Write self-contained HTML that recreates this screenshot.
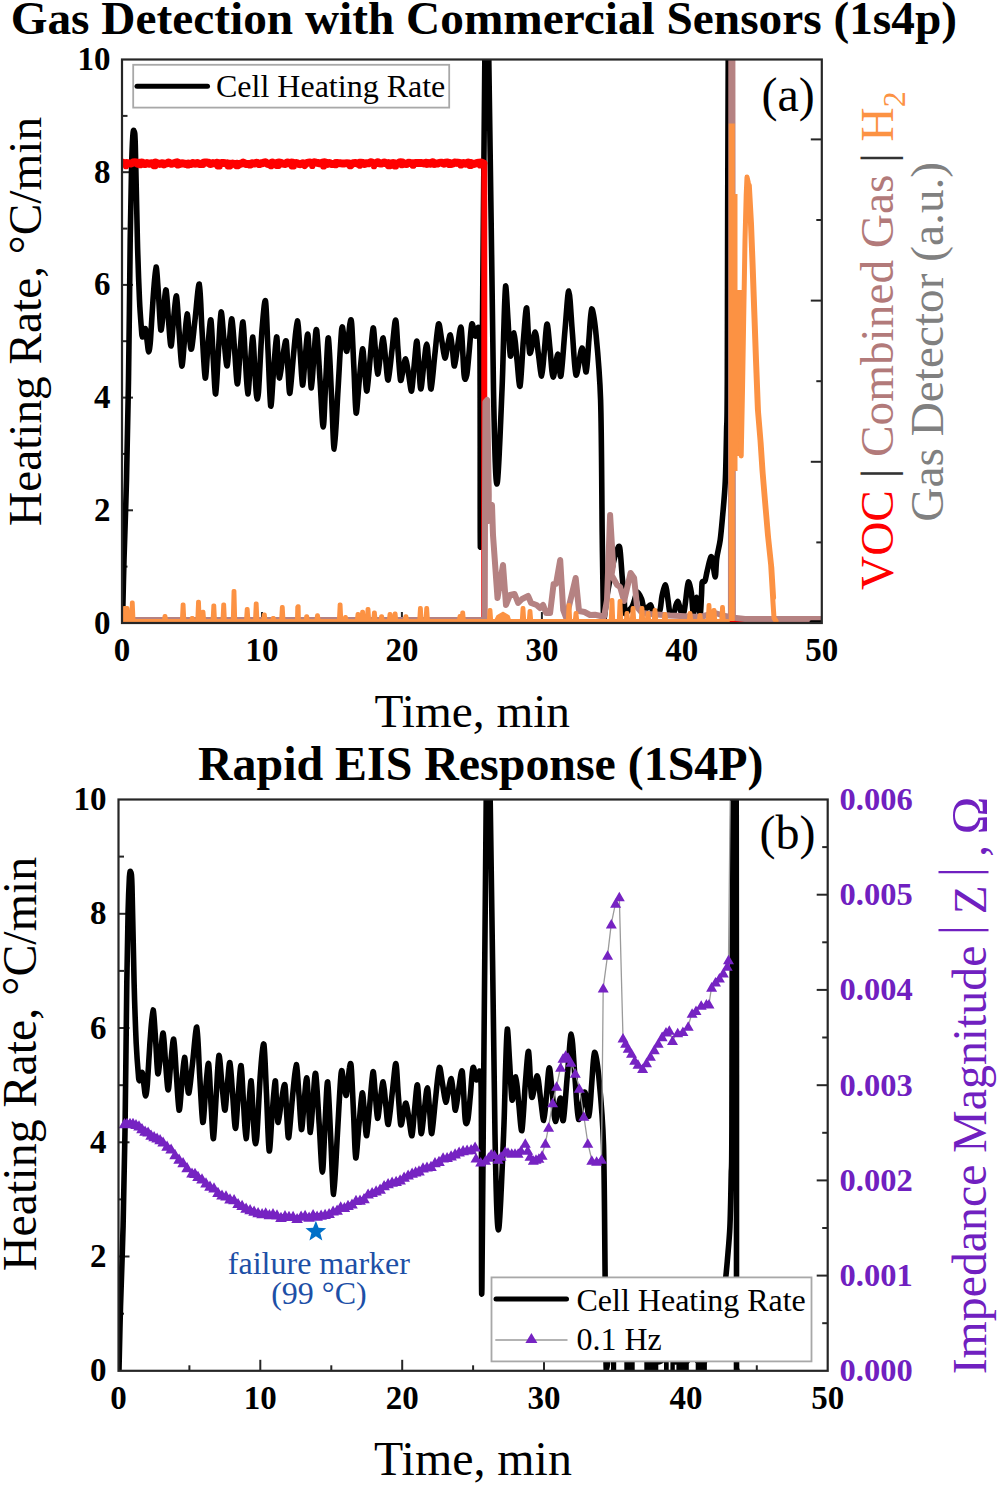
<!DOCTYPE html><html><head><meta charset="utf-8"><style>html,body{margin:0;padding:0;background:#fff}svg{display:block}text{font-family:"Liberation Serif",serif}</style></head><body>
<svg width="998" height="1486" viewBox="0 0 998 1486">
<rect width="998" height="1486" fill="#fff"/>
<defs><clipPath id="ca"><rect x="122.0" y="59.5" width="699.8" height="563.5"/></clipPath>
<clipPath id="cb"><rect x="118.5" y="799.5" width="709.2" height="571.3"/></clipPath></defs>
<path d="M122.0,566.6 h5.5" stroke="#262626" stroke-width="2"/><path d="M122.0,510.3 h11.0" stroke="#262626" stroke-width="2"/><path d="M122.0,453.9 h5.5" stroke="#262626" stroke-width="2"/><path d="M122.0,397.6 h11.0" stroke="#262626" stroke-width="2"/><path d="M122.0,341.2 h5.5" stroke="#262626" stroke-width="2"/><path d="M122.0,284.9 h11.0" stroke="#262626" stroke-width="2"/><path d="M122.0,228.6 h5.5" stroke="#262626" stroke-width="2"/><path d="M122.0,172.2 h11.0" stroke="#262626" stroke-width="2"/><path d="M122.0,115.9 h5.5" stroke="#262626" stroke-width="2"/><path d="M192.0,623.0 v-5.5" stroke="#262626" stroke-width="2"/><path d="M262.0,623.0 v-11.0" stroke="#262626" stroke-width="2"/><path d="M331.9,623.0 v-5.5" stroke="#262626" stroke-width="2"/><path d="M401.9,623.0 v-11.0" stroke="#262626" stroke-width="2"/><path d="M471.9,623.0 v-5.5" stroke="#262626" stroke-width="2"/><path d="M541.9,623.0 v-11.0" stroke="#262626" stroke-width="2"/><path d="M611.9,623.0 v-5.5" stroke="#262626" stroke-width="2"/><path d="M681.8,623.0 v-11.0" stroke="#262626" stroke-width="2"/><path d="M751.8,623.0 v-5.5" stroke="#262626" stroke-width="2"/><path d="M821.8,461.8 h-11.0" stroke="#262626" stroke-width="2"/><path d="M821.8,300.6 h-11.0" stroke="#262626" stroke-width="2"/><path d="M821.8,139.4 h-11.0" stroke="#262626" stroke-width="2"/><path d="M821.8,542.4 h-5.5" stroke="#262626" stroke-width="2"/><path d="M821.8,381.2 h-5.5" stroke="#262626" stroke-width="2"/><path d="M821.8,220.0 h-5.5" stroke="#262626" stroke-width="2"/>
<g clip-path="url(#ca)" fill="none" stroke-linejoin="round" stroke-linecap="round">
<path d="M122,619.8 L821,619.8" stroke="#a89cb8" stroke-width="1.6"/>
<path d="M122.5,622.0 C122.7,612.7 123.4,581.3 124.0,560.0 C124.6,538.7 125.8,507.0 126.5,480.0 C127.2,453.0 127.9,416.0 128.5,380.0 C129.1,344.0 129.8,271.5 130.2,240.0 C130.6,208.5 131.1,185.6 131.5,170.0 C131.9,154.4 132.4,141.8 132.8,136.0 C133.2,130.2 133.6,129.7 134.0,131.0 C134.4,132.3 134.8,128.7 135.3,145.0 C135.8,161.3 136.8,216.8 137.4,240.0 C138.0,263.2 138.9,286.5 139.5,300.0 C140.1,313.5 141.1,324.4 141.5,330.0 C141.9,335.6 142.1,336.9 142.5,337.0 C142.9,337.1 143.6,332.2 144.0,331.0 C144.4,329.8 145.1,327.6 145.5,329.0 C145.9,330.4 146.5,336.6 147.0,340.0 C147.5,343.4 148.2,352.0 148.7,352.0 C149.2,352.0 149.9,347.8 150.5,340.0 C151.1,332.2 152.2,310.9 153.0,300.0 C153.8,289.1 155.2,267.8 156.0,267.0 C156.8,266.2 157.8,285.6 158.5,295.0 C159.2,304.4 160.1,327.8 160.8,330.0 C161.6,332.2 162.7,316.0 163.5,310.0 C164.3,304.0 165.3,288.5 166.1,290.0 C166.8,291.5 167.8,311.6 168.5,320.0 C169.2,328.4 170.2,346.0 171.0,346.0 C171.8,346.0 172.7,327.5 173.5,320.0 C174.3,312.5 175.7,294.5 176.5,296.0 C177.3,297.5 178.2,319.5 179.0,330.0 C179.8,340.5 181.0,364.5 181.8,366.0 C182.6,367.5 183.7,347.8 184.5,340.0 C185.3,332.2 186.4,314.8 187.1,314.0 C187.8,313.2 188.6,329.8 189.3,335.0 C190.0,340.2 190.6,351.2 191.5,349.0 C192.4,346.8 193.8,329.8 195.0,320.0 C196.2,310.2 198.2,282.5 199.3,284.0 C200.4,285.5 201.1,315.9 202.0,330.0 C202.9,344.1 204.3,375.8 205.2,378.0 C206.1,380.2 207.1,353.7 208.0,345.0 C208.9,336.3 210.1,317.8 210.9,320.0 C211.7,322.2 212.6,348.9 213.3,360.0 C214.0,371.1 214.9,395.5 215.7,394.0 C216.5,392.5 217.7,362.3 218.5,350.0 C219.3,337.7 220.3,313.5 221.1,312.0 C221.9,310.5 223.1,331.9 224.0,340.0 C224.9,348.1 226.2,366.0 227.0,366.0 C227.8,366.0 228.8,347.1 229.5,340.0 C230.2,332.9 231.1,317.5 231.9,319.0 C232.7,320.5 233.8,340.2 234.6,350.0 C235.4,359.8 236.6,384.0 237.4,384.0 C238.2,384.0 239.4,359.3 240.2,350.0 C241.0,340.7 242.2,320.5 243.0,322.0 C243.8,323.5 244.7,349.2 245.4,360.0 C246.1,370.8 247.1,393.2 247.8,394.0 C248.5,394.8 249.5,373.6 250.3,365.0 C251.1,356.4 252.2,336.2 252.9,337.0 C253.6,337.8 254.2,361.1 254.8,370.0 C255.4,378.9 256.0,392.7 256.6,396.0 C257.2,399.3 257.7,401.9 258.5,392.0 C259.3,382.1 260.9,343.6 262.0,330.0 C263.1,316.4 264.6,298.0 265.5,301.0 C266.4,304.0 267.2,334.2 268.0,350.0 C268.8,365.8 269.9,403.0 270.7,406.0 C271.5,409.0 272.7,380.4 273.6,370.0 C274.5,359.6 275.9,338.5 276.6,337.0 C277.3,335.5 277.6,353.9 278.0,360.0 C278.4,366.1 278.9,378.8 279.6,378.0 C280.4,377.2 282.0,360.6 283.0,355.0 C284.0,349.4 285.4,338.8 286.2,341.0 C286.9,343.2 287.4,362.2 288.0,370.0 C288.6,377.8 289.1,395.2 289.9,393.0 C290.7,390.8 292.4,365.8 293.5,355.0 C294.6,344.2 296.3,321.8 297.3,321.0 C298.3,320.2 299.2,340.4 300.0,350.0 C300.8,359.6 301.8,383.5 302.5,385.0 C303.2,386.5 304.2,367.6 305.0,360.0 C305.8,352.4 307.0,334.0 307.7,334.0 C308.4,334.0 308.9,351.9 309.5,360.0 C310.1,368.1 310.7,388.8 311.4,388.0 C312.1,387.2 313.2,363.7 314.0,355.0 C314.8,346.3 315.7,326.2 316.6,330.0 C317.5,333.8 319.0,365.5 320.0,380.0 C321.0,394.6 322.3,427.0 323.2,427.0 C324.1,427.0 325.0,393.4 325.8,380.0 C326.6,366.7 327.5,335.8 328.4,338.0 C329.3,340.2 330.6,378.4 331.5,395.0 C332.4,411.6 333.3,449.8 334.3,449.0 C335.3,448.2 336.9,408.0 338.0,390.0 C339.1,372.0 340.8,336.5 341.7,329.0 C342.6,321.5 343.5,336.7 344.3,340.0 C345.1,343.3 346.1,353.4 346.9,351.0 C347.7,348.6 349.2,328.1 349.9,324.0 C350.6,319.9 351.1,317.1 351.7,324.0 C352.3,330.9 353.3,356.6 354.0,370.0 C354.7,383.4 355.3,411.5 356.1,413.0 C356.9,414.5 358.3,389.6 359.3,380.0 C360.3,370.4 361.7,350.5 362.5,349.0 C363.3,347.5 364.0,363.7 364.7,370.0 C365.4,376.3 366.1,392.5 366.9,391.0 C367.7,389.5 369.1,369.4 370.0,360.0 C370.9,350.6 372.3,329.5 373.1,328.0 C373.9,326.5 374.7,343.1 375.4,350.0 C376.1,356.9 376.9,373.2 377.6,374.0 C378.4,374.8 379.6,360.4 380.4,355.0 C381.2,349.6 382.4,337.2 383.2,338.0 C384.0,338.8 384.9,353.7 385.7,360.0 C386.4,366.3 387.3,381.5 388.2,380.0 C389.1,378.5 390.9,359.0 392.0,350.0 C393.1,341.0 394.7,320.0 395.6,320.0 C396.5,320.0 397.3,341.0 398.0,350.0 C398.7,359.0 399.8,377.0 400.5,380.0 C401.2,383.0 402.2,373.2 403.0,370.0 C403.8,366.8 404.8,358.2 405.7,359.0 C406.6,359.8 407.8,370.2 408.7,375.0 C409.6,379.8 410.8,392.5 411.6,391.0 C412.4,389.5 413.4,372.5 414.2,365.0 C415.0,357.5 416.1,341.0 416.8,341.0 C417.5,341.0 418.2,357.8 418.8,365.0 C419.4,372.2 420.1,389.0 420.8,389.0 C421.6,389.0 422.9,371.8 423.8,365.0 C424.7,358.2 425.9,344.0 426.7,344.0 C427.5,344.0 428.2,358.2 428.9,365.0 C429.6,371.8 430.2,390.5 431.1,389.0 C432.0,387.5 433.7,364.8 434.8,355.0 C435.9,345.2 437.5,326.2 438.5,324.0 C439.5,321.8 440.7,334.9 441.7,340.0 C442.7,345.1 444.0,357.2 444.9,358.0 C445.8,358.8 446.9,348.4 447.7,345.0 C448.5,341.6 449.7,334.2 450.4,335.0 C451.1,335.8 451.9,345.4 452.5,350.0 C453.1,354.6 453.7,366.8 454.5,366.0 C455.3,365.2 456.8,350.7 457.8,345.0 C458.8,339.3 460.3,323.5 461.2,328.0 C462.1,332.5 463.3,367.9 464.1,375.0 C464.9,382.1 466.0,378.8 466.8,375.0 C467.6,371.2 468.6,357.6 469.3,350.0 C470.1,342.4 470.9,326.1 471.8,324.0 C472.7,321.9 474.0,333.3 475.2,336.0 C476.4,338.7 479.0,311.2 479.8,342.0 C480.6,372.8 479.8,586.3 480.6,541.0 C481.4,495.7 483.8,115.2 485.0,40.0 C486.2,-35.2 487.2,-12.5 488.5,40.0 C489.8,92.5 492.2,323.4 493.5,390.0 C494.8,456.6 495.7,484.0 497.0,484.0 C498.3,484.0 501.0,413.1 502.0,390.0 C503.0,366.9 503.3,345.6 503.8,330.0 C504.3,314.4 505.0,287.5 505.6,286.0 C506.2,284.5 507.3,309.5 508.0,320.0 C508.7,330.5 509.5,354.1 510.4,356.0 C511.3,357.9 513.0,332.4 514.0,333.0 C515.0,333.6 516.1,352.1 517.0,360.0 C517.9,367.9 519.1,389.0 520.1,386.0 C521.1,383.0 522.4,351.7 523.4,340.0 C524.4,328.3 525.8,306.1 526.7,308.0 C527.6,309.9 528.4,349.4 529.7,353.0 C531.0,356.6 533.8,331.8 535.1,332.0 C536.4,332.2 537.4,347.4 538.4,354.0 C539.4,360.6 540.8,376.6 541.7,376.0 C542.6,375.4 543.6,357.8 544.4,350.0 C545.2,342.2 546.2,324.0 547.1,324.0 C548.0,324.0 549.2,342.1 550.1,350.0 C551.0,357.9 551.9,376.4 553.1,377.0 C554.3,377.6 556.7,354.1 557.9,354.0 C559.1,353.9 559.8,379.6 560.9,376.0 C562.0,372.4 563.8,342.8 565.0,330.0 C566.2,317.2 567.7,290.6 568.8,291.0 C569.9,291.4 571.3,320.4 572.4,333.0 C573.5,345.6 574.6,372.8 576.0,375.0 C577.4,377.2 580.5,348.4 582.0,348.0 C583.5,347.6 585.2,373.2 586.2,372.0 C587.2,370.8 588.1,349.4 588.9,340.0 C589.7,330.6 590.6,310.2 591.6,309.0 C592.6,307.8 594.4,318.4 595.8,332.0 C597.1,345.6 599.6,369.6 600.6,400.0 C601.6,430.4 601.8,502.8 602.2,535.0 C602.6,567.2 603.0,603.5 603.4,615.0 C603.8,626.5 604.5,614.9 605.0,612.0 C605.5,609.1 606.1,601.7 607.0,596.0 C607.9,590.3 610.0,579.4 611.0,574.0 C612.0,568.6 613.1,563.6 614.0,560.0 C614.9,556.4 616.1,551.8 617.0,550.0 C617.9,548.2 619.0,544.0 619.8,548.0 C620.6,552.0 621.6,570.2 622.2,577.0 C622.8,583.8 623.6,587.6 624.0,593.0 C624.4,598.4 624.4,610.3 625.0,613.0 C625.6,615.7 627.0,611.9 628.0,611.0 C629.0,610.1 630.9,608.6 631.9,607.0 C632.9,605.4 633.7,602.2 634.5,600.0 C635.3,597.8 636.2,592.1 637.3,592.0 C638.4,591.9 640.6,596.5 641.6,599.0 C642.6,601.5 643.2,607.6 644.0,609.0 C644.8,610.4 646.0,608.6 647.0,608.0 C648.0,607.4 649.8,604.3 650.7,605.0 C651.6,605.7 652.3,611.1 653.1,612.5 C653.9,613.9 655.0,614.4 656.0,614.0 C657.0,613.6 659.1,612.7 660.0,610.0 C660.9,607.3 661.2,599.8 662.0,596.0 C662.8,592.2 664.7,584.4 665.6,585.0 C666.5,585.6 667.3,595.8 668.0,600.0 C668.7,604.2 669.1,611.0 670.0,613.0 C670.9,615.0 672.9,614.2 673.8,613.0 C674.7,611.8 675.4,606.7 676.0,605.0 C676.6,603.3 677.4,601.1 678.0,601.6 C678.6,602.1 679.5,606.2 680.0,608.0 C680.5,609.8 680.9,612.9 681.5,613.5 C682.1,614.1 683.3,614.3 684.0,612.0 C684.7,609.7 685.4,602.5 686.0,598.0 C686.6,593.5 687.5,582.8 688.3,582.0 C689.1,581.2 690.6,587.9 691.3,592.5 C692.0,597.1 692.6,611.1 693.2,613.0 C693.8,614.9 694.5,607.3 695.0,605.0 C695.5,602.7 696.3,597.2 696.8,597.4 C697.3,597.5 698.0,603.6 698.5,606.0 C699.0,608.4 700.0,615.1 700.4,613.5 C700.8,611.9 701.2,599.7 701.5,595.0 C701.8,590.3 701.7,584.3 702.2,582.2 C702.7,580.1 704.3,582.6 705.0,581.0 C705.7,579.4 706.3,574.6 707.1,571.3 C707.9,568.0 709.4,561.2 710.1,559.2 C710.8,557.2 711.2,555.3 712.0,558.0 C712.8,560.7 714.5,577.0 715.2,577.0 C715.9,577.0 716.0,563.5 716.8,558.0 C717.5,552.5 719.3,546.5 720.2,540.0 C721.1,533.5 721.9,523.9 722.7,515.0 C723.5,506.1 724.7,493.8 725.3,481.0 C725.9,468.2 726.3,445.1 726.6,430.0 C726.9,414.9 727.0,438.5 727.3,380.0 C727.6,321.5 727.7,91.0 728.3,40.0 C728.9,-11.0 731.0,-47.3 731.5,40.0 C732.0,127.3 730.5,534.9 731.8,622.0 C733.1,709.1 731.3,621.1 740.0,621.0 C748.7,620.9 777.9,621.0 790.0,621.0 C802.1,621.0 816.4,621.0 821.0,621.0" stroke="#000" stroke-width="5.6"/>
<path d="M122.5,162.7 C122.9,162.8 124.0,163.2 124.7,163.3 C125.4,163.3 126.2,162.9 126.9,163.0 C127.6,163.0 128.4,163.3 129.1,163.4 C129.8,163.5 130.6,163.6 131.3,163.4 C132.0,163.3 132.8,162.6 133.5,162.4 C134.2,162.2 135.0,162.1 135.7,162.3 C136.4,162.6 137.2,163.7 137.9,163.8 C138.6,163.9 139.4,162.9 140.1,162.8 C140.8,162.6 141.6,162.5 142.3,162.7 C143.0,162.9 143.8,164.0 144.5,164.1 C145.2,164.2 146.0,163.2 146.7,163.1 C147.4,163.1 148.2,163.8 148.9,163.8 C149.6,163.8 150.4,163.2 151.1,163.2 C151.8,163.1 152.6,163.5 153.3,163.5 C154.0,163.4 154.8,162.6 155.5,162.6 C156.2,162.6 157.0,163.2 157.7,163.4 C158.4,163.7 159.2,163.9 159.9,163.9 C160.6,163.8 161.4,163.3 162.1,163.2 C162.8,163.2 163.6,163.6 164.3,163.6 C165.0,163.7 165.8,163.7 166.5,163.5 C167.2,163.3 168.0,162.4 168.7,162.4 C169.4,162.4 170.2,163.5 170.9,163.7 C171.6,163.8 172.4,163.5 173.1,163.4 C173.8,163.2 174.6,163.0 175.3,162.8 C176.0,162.7 176.8,162.2 177.5,162.4 C178.2,162.5 179.0,163.7 179.7,163.9 C180.4,164.0 181.2,163.2 181.9,163.2 C182.6,163.1 183.4,163.5 184.1,163.6 C184.8,163.7 185.6,163.9 186.3,163.9 C187.0,163.9 187.8,163.6 188.5,163.6 C189.2,163.6 190.0,164.1 190.7,164.0 C191.4,163.9 192.2,163.0 192.9,163.0 C193.6,163.0 194.4,163.7 195.1,163.7 C195.8,163.8 196.6,163.1 197.3,163.1 C198.0,163.1 198.8,163.9 199.5,164.0 C200.2,164.1 201.0,164.1 201.7,163.9 C202.4,163.6 203.2,162.7 203.9,162.5 C204.6,162.3 205.4,162.5 206.1,162.5 C206.8,162.6 207.6,162.4 208.3,162.7 C209.0,162.9 209.8,164.0 210.5,164.0 C211.2,164.1 212.0,163.2 212.7,163.1 C213.4,163.0 214.2,163.5 214.9,163.4 C215.6,163.4 216.4,162.9 217.1,162.8 C217.8,162.8 218.6,163.2 219.3,163.2 C220.0,163.2 220.8,163.0 221.5,163.0 C222.2,162.9 223.0,162.9 223.7,162.9 C224.4,163.0 225.2,163.3 225.9,163.4 C226.6,163.4 227.4,163.3 228.1,163.4 C228.8,163.4 229.6,163.9 230.3,163.9 C231.0,164.0 231.8,163.5 232.5,163.5 C233.2,163.5 234.0,163.9 234.7,164.0 C235.4,164.0 236.2,163.8 236.9,163.8 C237.6,163.9 238.4,164.1 239.1,164.1 C239.8,164.0 240.6,163.8 241.3,163.5 C242.0,163.3 242.8,162.5 243.5,162.6 C244.2,162.7 245.0,163.6 245.7,163.8 C246.4,164.1 247.2,164.0 247.9,164.0 C248.6,164.0 249.4,164.0 250.1,163.9 C250.8,163.8 251.6,163.4 252.3,163.3 C253.0,163.3 253.8,163.7 254.5,163.6 C255.2,163.5 256.0,162.6 256.7,162.7 C257.4,162.7 258.2,163.7 258.9,163.8 C259.6,163.9 260.4,163.5 261.1,163.3 C261.8,163.2 262.6,163.0 263.3,162.8 C264.0,162.7 264.8,162.2 265.5,162.4 C266.2,162.6 267.0,163.6 267.7,163.8 C268.4,164.1 269.2,164.3 269.9,164.1 C270.6,163.9 271.4,162.5 272.1,162.5 C272.8,162.4 273.6,163.6 274.3,163.7 C275.0,163.8 275.8,163.2 276.5,163.0 C277.2,162.8 278.0,162.6 278.7,162.6 C279.4,162.5 280.2,162.6 280.9,162.8 C281.6,163.0 282.4,163.5 283.1,163.7 C283.8,163.9 284.6,164.1 285.3,163.9 C286.0,163.7 286.8,162.5 287.5,162.4 C288.2,162.3 289.0,163.4 289.7,163.4 C290.4,163.4 291.2,162.3 291.9,162.4 C292.6,162.4 293.4,163.5 294.1,163.6 C294.8,163.7 295.6,162.8 296.3,162.9 C297.0,162.9 297.8,163.7 298.5,163.9 C299.2,164.1 300.0,164.2 300.7,164.1 C301.4,164.0 302.2,163.2 302.9,163.2 C303.6,163.2 304.4,164.2 305.1,164.1 C305.8,164.0 306.6,163.1 307.3,162.9 C308.0,162.6 308.8,162.4 309.5,162.4 C310.2,162.5 311.0,163.4 311.7,163.4 C312.4,163.4 313.2,162.5 313.9,162.4 C314.6,162.2 315.4,162.5 316.1,162.7 C316.8,162.8 317.6,162.9 318.3,163.0 C319.0,163.2 319.8,163.5 320.5,163.4 C321.2,163.3 322.0,162.8 322.7,162.6 C323.4,162.4 324.2,162.2 324.9,162.4 C325.6,162.6 326.4,163.8 327.1,163.9 C327.8,163.9 328.6,162.8 329.3,162.9 C330.0,162.9 330.8,163.9 331.5,164.0 C332.2,164.2 333.0,164.1 333.7,163.9 C334.4,163.7 335.2,163.1 335.9,163.0 C336.6,162.8 337.4,163.1 338.1,163.1 C338.8,163.2 339.6,163.2 340.3,163.2 C341.0,163.3 341.8,163.4 342.5,163.5 C343.2,163.5 344.0,163.4 344.7,163.4 C345.4,163.3 346.2,163.3 346.9,163.3 C347.6,163.3 348.4,163.3 349.1,163.4 C349.8,163.5 350.6,164.0 351.3,164.0 C352.0,164.0 352.8,163.4 353.5,163.2 C354.2,163.1 355.0,163.0 355.7,163.1 C356.4,163.1 357.2,163.7 357.9,163.6 C358.6,163.5 359.4,162.9 360.1,162.7 C360.8,162.6 361.6,162.6 362.3,162.8 C363.0,163.1 363.8,164.0 364.5,164.1 C365.2,164.1 366.0,163.4 366.7,163.2 C367.4,163.1 368.2,163.4 368.9,163.3 C369.6,163.1 370.4,162.4 371.1,162.3 C371.8,162.3 372.6,162.9 373.3,163.0 C374.0,163.2 374.8,163.5 375.5,163.3 C376.2,163.2 377.0,162.3 377.7,162.3 C378.4,162.3 379.2,163.2 379.9,163.4 C380.6,163.6 381.4,163.6 382.1,163.4 C382.8,163.3 383.6,162.4 384.3,162.4 C385.0,162.4 385.8,163.3 386.5,163.4 C387.2,163.6 388.0,163.1 388.7,163.1 C389.4,163.2 390.2,163.6 390.9,163.5 C391.6,163.5 392.4,162.9 393.1,162.9 C393.8,162.9 394.6,163.5 395.3,163.6 C396.0,163.7 396.8,163.8 397.5,163.6 C398.2,163.4 399.0,162.5 399.7,162.3 C400.4,162.1 401.2,162.2 401.9,162.4 C402.6,162.6 403.4,163.2 404.1,163.5 C404.8,163.8 405.6,164.2 406.3,164.0 C407.0,163.9 407.8,162.9 408.5,162.8 C409.2,162.6 410.0,163.0 410.7,163.1 C411.4,163.2 412.2,163.4 412.9,163.4 C413.6,163.3 414.4,162.9 415.1,162.9 C415.8,162.8 416.6,163.0 417.3,163.0 C418.0,163.0 418.8,162.9 419.5,162.9 C420.2,162.9 421.0,162.9 421.7,163.0 C422.4,163.0 423.2,163.4 423.9,163.4 C424.6,163.4 425.4,162.9 426.1,162.8 C426.8,162.8 427.6,162.8 428.3,163.0 C429.0,163.1 429.8,163.8 430.5,163.7 C431.2,163.6 432.0,162.4 432.7,162.3 C433.4,162.3 434.2,163.1 434.9,163.3 C435.6,163.5 436.4,163.7 437.1,163.6 C437.8,163.5 438.6,163.0 439.3,162.9 C440.0,162.7 440.8,162.6 441.5,162.7 C442.2,162.8 443.0,163.7 443.7,163.7 C444.4,163.8 445.2,162.9 445.9,162.7 C446.6,162.5 447.4,162.6 448.1,162.6 C448.8,162.7 449.6,162.9 450.3,163.1 C451.0,163.2 451.8,163.7 452.5,163.6 C453.2,163.5 454.0,162.6 454.7,162.5 C455.4,162.4 456.2,162.8 456.9,162.9 C457.6,162.9 458.4,162.7 459.1,162.9 C459.8,163.1 460.6,163.8 461.3,163.8 C462.0,163.8 462.8,163.1 463.5,163.1 C464.2,163.1 465.0,163.9 465.7,163.8 C466.4,163.8 467.2,162.8 467.9,162.6 C468.6,162.4 469.4,162.8 470.1,162.9 C470.8,163.1 471.6,163.3 472.3,163.5 C473.0,163.6 473.8,164.0 474.5,163.9 C475.2,163.8 476.0,163.3 476.7,163.1 C477.4,162.9 478.2,162.8 478.9,162.7 C479.6,162.6 480.4,162.4 481.1,162.5 C481.8,162.6 482.9,163.1 483.3,163.3" stroke="#ff0000" stroke-width="8"/>
<path d="M484.3,163 L484.2,621" stroke="#ff0000" stroke-width="6"/>
<path d="M484.2,621 L490,621 L821,621" stroke="#ff0000" stroke-width="4"/>
<ellipse cx="126.0" cy="167.3" rx="2.8" ry="2" fill="#ff0000" stroke="none"/>
<ellipse cx="140.4" cy="166.3" rx="2.8" ry="2" fill="#ff0000" stroke="none"/>
<ellipse cx="154.5" cy="167.3" rx="3.5" ry="2" fill="#ff0000" stroke="none"/>
<ellipse cx="163.9" cy="166.4" rx="2.7" ry="2" fill="#ff0000" stroke="none"/>
<ellipse cx="177.8" cy="166.5" rx="2.9" ry="2" fill="#ff0000" stroke="none"/>
<ellipse cx="188.0" cy="166.6" rx="3.1" ry="2" fill="#ff0000" stroke="none"/>
<ellipse cx="203.2" cy="165.9" rx="2.7" ry="2" fill="#ff0000" stroke="none"/>
<ellipse cx="218.7" cy="167.6" rx="3.8" ry="2" fill="#ff0000" stroke="none"/>
<ellipse cx="229.0" cy="167.5" rx="3.9" ry="2" fill="#ff0000" stroke="none"/>
<ellipse cx="237.2" cy="167.3" rx="3.6" ry="2" fill="#ff0000" stroke="none"/>
<ellipse cx="249.9" cy="166.4" rx="3.3" ry="2" fill="#ff0000" stroke="none"/>
<ellipse cx="259.3" cy="166.0" rx="2.8" ry="2" fill="#ff0000" stroke="none"/>
<ellipse cx="271.1" cy="167.3" rx="2.9" ry="2" fill="#ff0000" stroke="none"/>
<ellipse cx="277.6" cy="167.1" rx="3.9" ry="2" fill="#ff0000" stroke="none"/>
<ellipse cx="292.8" cy="167.4" rx="3.8" ry="2" fill="#ff0000" stroke="none"/>
<ellipse cx="304.6" cy="167.2" rx="2.5" ry="2" fill="#ff0000" stroke="none"/>
<ellipse cx="312.3" cy="167.0" rx="2.9" ry="2" fill="#ff0000" stroke="none"/>
<ellipse cx="323.6" cy="167.5" rx="3.1" ry="2" fill="#ff0000" stroke="none"/>
<ellipse cx="335.7" cy="166.3" rx="3.0" ry="2" fill="#ff0000" stroke="none"/>
<ellipse cx="350.3" cy="167.2" rx="3.2" ry="2" fill="#ff0000" stroke="none"/>
<ellipse cx="359.8" cy="166.8" rx="2.8" ry="2" fill="#ff0000" stroke="none"/>
<ellipse cx="374.0" cy="167.2" rx="2.8" ry="2" fill="#ff0000" stroke="none"/>
<ellipse cx="389.2" cy="167.3" rx="3.7" ry="2" fill="#ff0000" stroke="none"/>
<ellipse cx="395.3" cy="167.4" rx="3.4" ry="2" fill="#ff0000" stroke="none"/>
<ellipse cx="401.8" cy="166.3" rx="2.9" ry="2" fill="#ff0000" stroke="none"/>
<ellipse cx="413.1" cy="166.7" rx="3.1" ry="2" fill="#ff0000" stroke="none"/>
<ellipse cx="426.8" cy="165.9" rx="2.5" ry="2" fill="#ff0000" stroke="none"/>
<ellipse cx="434.1" cy="166.0" rx="2.7" ry="2" fill="#ff0000" stroke="none"/>
<ellipse cx="449.8" cy="166.0" rx="3.8" ry="2" fill="#ff0000" stroke="none"/>
<ellipse cx="460.9" cy="166.4" rx="3.0" ry="2" fill="#ff0000" stroke="none"/>
<ellipse cx="470.4" cy="166.9" rx="3.5" ry="2" fill="#ff0000" stroke="none"/>
<ellipse cx="480.0" cy="166.4" rx="2.8" ry="2" fill="#ff0000" stroke="none"/>
<path d="M122.0,620.0 L484.6,620.0 L485.4,402.0 L487.2,400.0 L488.8,495.0 L488.5,521.0 L492.0,505.0 L493.0,535.0 L497.5,598.0 L503.0,565.0 L506.0,605.0 L510.0,595.0 L514.6,594.0 L518.1,603.0 L522.1,599.0 L528.1,596.0 L531.1,603.0 L536.6,605.0 L540.0,608.0 L543.1,605.0 L546.1,613.0 L550.1,613.0 L553.6,584.0 L556.0,584.0 L560.2,560.0 L563.2,610.0 L566.2,618.0 L575.7,578.0 L579.0,611.0 L584.5,612.0 L590.0,615.0 L595.0,614.7 L604.1,616.7 L607.0,600.0 L610.1,515.0 L613.1,565.0 L611.5,575.0 L617.1,585.0 L620.1,587.0 L624.1,601.0 L630.6,573.0 L634.1,578.0 L637.1,607.0 L642.1,613.0 L650.2,614.0 L670.0,615.5 L700.0,617.0 L715.0,613.0 L725.0,616.0 L729.5,617.0 L730.9,617.0 L731.3,40.0 L732.4,40.0 L732.9,617.0 L736.0,618.0 L745.0,619.0 L821.0,619.0" stroke="#b58282" stroke-width="6"/>
<path d="M122.0,621.0 L123.2,621.0 L124.0,608.0 L125.0,608.0 L125.7,621.0 L125.8,621.0 L126.5,608.0 L127.5,608.0 L128.3,621.0 L131.0,621.0 L131.8,602.5 L132.8,602.5 L133.6,621.0 L163.7,621.0 L164.5,616.0 L165.5,616.0 L166.3,621.0 L181.8,621.0 L182.6,604.4 L183.6,604.4 L184.4,621.0 L190.9,621.0 L191.7,617.9 L192.7,617.9 L193.5,621.0 L197.2,621.0 L198.0,601.6 L199.0,601.6 L199.8,621.0 L201.7,621.0 L202.5,611.6 L203.5,611.6 L204.3,621.0 L212.5,621.0 L213.3,605.3 L214.3,605.3 L215.1,621.0 L222.4,621.0 L223.2,604.4 L224.2,604.4 L225.0,621.0 L232.7,621.0 L233.5,590.8 L234.5,590.8 L235.3,621.0 L245.9,621.0 L246.7,608.9 L247.7,608.9 L248.5,621.0 L254.9,621.0 L255.7,603.4 L256.7,603.4 L257.5,621.0 L263.0,621.0 L263.8,614.3 L264.8,614.3 L265.6,621.0 L272.0,621.0 L272.8,617.9 L273.8,617.9 L274.6,621.0 L281.0,621.0 L281.8,607.0 L282.8,607.0 L283.6,621.0 L296.4,621.0 L296.9,621.0 L297.2,607.0 L297.7,606.2 L298.2,607.0 L298.7,606.2 L299.0,621.0 L299.5,621.0 L305.4,621.0 L306.2,616.1 L307.2,616.1 L308.0,621.0 L316.2,621.0 L317.0,615.2 L318.0,615.2 L318.8,621.0 L338.8,621.0 L339.6,604.4 L340.6,604.4 L341.4,621.0 L344.2,621.0 L345.0,617.0 L346.0,617.0 L346.8,621.0 L356.7,621.0 L357.5,614.0 L358.5,614.0 L359.3,621.0 L361.3,621.0 L362.1,611.6 L363.1,611.6 L363.9,621.0 L366.7,621.0 L367.5,608.9 L368.5,608.9 L369.3,621.0 L373.1,621.0 L373.9,612.5 L374.9,612.5 L375.7,621.0 L380.3,621.0 L381.1,616.1 L382.1,616.1 L382.9,621.0 L388.7,621.0 L389.5,614.0 L390.5,614.0 L391.3,621.0 L393.8,621.0 L394.6,613.4 L395.6,613.4 L396.4,621.0 L404.6,621.0 L405.4,616.1 L406.4,616.1 L407.2,621.0 L419.1,621.0 L419.9,608.0 L420.9,608.0 L421.7,621.0 L425.4,621.0 L426.2,608.0 L427.2,608.0 L428.0,621.0 L458.7,621.0 L459.5,616.0 L460.5,616.0 L461.3,621.0 L461.4,621.0 L462.2,612.5 L463.2,612.5 L464.0,621.0 L488.7,621.0 L489.5,610.0 L490.5,610.0 L491.3,621.0 L521.7,621.0 L522.5,608.0 L523.5,608.0 L524.3,621.0 L528.7,621.0 L529.5,611.0 L530.5,611.0 L531.3,621.0 L567.7,621.0 L568.5,605.0 L569.5,605.0 L570.3,621.0 L574.7,621.0 L575.5,613.0 L576.5,613.0 L577.3,621.0 L610.7,621.0 L611.5,600.0 L612.5,600.0 L613.3,621.0 L618.7,621.0 L619.5,601.0 L620.5,601.0 L621.3,621.0 L625.7,621.0 L626.5,613.0 L627.5,613.0 L628.3,621.0 L631.7,621.0 L632.5,608.0 L633.5,608.0 L634.3,621.0 L640.7,621.0 L641.5,608.0 L642.5,608.0 L643.3,621.0 L646.7,621.0 L647.5,613.0 L648.5,613.0 L649.3,621.0 L653.7,621.0 L654.5,610.0 L655.5,610.0 L656.3,621.0 L663.7,621.0 L664.5,614.0 L665.5,614.0 L666.3,621.0 L688.7,621.0 L689.5,613.0 L690.5,613.0 L691.3,621.0 L698.7,621.0 L699.5,615.0 L700.5,615.0 L701.3,621.0 L707.7,621.0 L708.5,605.0 L709.5,605.0 L710.3,621.0 L712.7,621.0 L713.5,610.0 L714.5,610.0 L715.3,621.0 L721.2,621.0 L722.0,607.0 L723.0,607.0 L723.8,621.0 L728.0,621.0" stroke="#fc9243" stroke-width="3.8"/>
<path d="M494,622 L497,616 L503,612.5 L509,616 L511,622 Z" fill="#fc9243" stroke="#fc9243" stroke-width="1.5"/>
<path d="M728.8,123.6 H734.8 V621 H728.8 Z M728.8,194 H737.5 V471 H728.8 Z M736,290 L744.6,290 L742.2,456 L736,456 Z" fill="#fc9243"/>
<path d="M741.2,456.0 L742.5,390.0 L743.5,330.0 L745.0,240.0 L746.2,195.0 L747.0,177.0 L748.2,182.0 L750.4,221.0 L752.0,262.0 L753.9,315.0 L755.5,360.0 L757.4,409.0 L760.0,440.0 L762.0,470.0 L764.5,500.0 L767.5,535.0 L770.7,565.0 L772.5,595.0 L774.0,618.0 L776.0,621.0" stroke="#fc9243" stroke-width="5"/>
<path d="M811,621.8 H821" stroke="#000" stroke-width="3"/>
<path d="M749.8,185.0 L752.0,224.0 L753.6,265.0 L755.5,318.0 L757.1,363.0 L759.0,412.0 L761.6,443.0 L763.6,473.0 L766.1,503.0 L769.1,538.0 L772.3,568.0 L774.1,598.0" stroke="#fc9243" stroke-width="4"/>
</g>
<rect x="122.0" y="59.5" width="699.8" height="563.5" fill="none" stroke="#262626" stroke-width="2.2"/>
<rect x="133.2" y="64.8" width="316" height="42.8" fill="#fff" stroke="#a8a8a8" stroke-width="1.8"/>
<path d="M137,86.3 H207.5" stroke="#000" stroke-width="5" stroke-linecap="round"/>
<text x="216" y="97" font-size="32">Cell Heating Rate</text>
<text x="761.5" y="111.4" font-size="48">(a)</text>
<text x="110.5" y="633.5" font-size="33" font-weight="bold" text-anchor="end">0</text>
<text x="110.5" y="520.8" font-size="33" font-weight="bold" text-anchor="end">2</text>
<text x="110.5" y="408.1" font-size="33" font-weight="bold" text-anchor="end">4</text>
<text x="110.5" y="295.4" font-size="33" font-weight="bold" text-anchor="end">6</text>
<text x="110.5" y="182.7" font-size="33" font-weight="bold" text-anchor="end">8</text>
<text x="110.5" y="70.0" font-size="33" font-weight="bold" text-anchor="end">10</text>
<text x="122.0" y="660.5" font-size="33" font-weight="bold" text-anchor="middle">0</text>
<text x="262.0" y="660.5" font-size="33" font-weight="bold" text-anchor="middle">10</text>
<text x="401.9" y="660.5" font-size="33" font-weight="bold" text-anchor="middle">20</text>
<text x="541.9" y="660.5" font-size="33" font-weight="bold" text-anchor="middle">30</text>
<text x="681.8" y="660.5" font-size="33" font-weight="bold" text-anchor="middle">40</text>
<text x="821.8" y="660.5" font-size="33" font-weight="bold" text-anchor="middle">50</text>
<text x="10.7" y="33.8" font-size="47.3" font-weight="bold">Gas Detection with Commercial Sensors (1s4p)</text>
<text x="374.6" y="726.5" font-size="47.3">Time, min</text>
<text transform="translate(41,526) rotate(-90)" font-size="47.3">Heating Rate, °C/min</text>
<text transform="translate(892.5,590) rotate(-90)" font-size="47.3"><tspan fill="#ff0000">VOC</tspan><tspan fill="#333"> | </tspan><tspan fill="#b27a7a">Combined Gas</tspan><tspan fill="#333"> | </tspan><tspan fill="#fc9243">H<tspan font-size="32" dy="12">2</tspan></tspan></text>
<text transform="translate(943,521.7) rotate(-90)" font-size="47.3" fill="#808080">Gas Detector (a.u.)</text>
<path d="M118.5,1313.7 h5.5" stroke="#262626" stroke-width="2"/><path d="M118.5,1256.5 h11.0" stroke="#262626" stroke-width="2"/><path d="M118.5,1199.4 h5.5" stroke="#262626" stroke-width="2"/><path d="M118.5,1142.3 h11.0" stroke="#262626" stroke-width="2"/><path d="M118.5,1085.2 h5.5" stroke="#262626" stroke-width="2"/><path d="M118.5,1028.0 h11.0" stroke="#262626" stroke-width="2"/><path d="M118.5,970.9 h5.5" stroke="#262626" stroke-width="2"/><path d="M118.5,913.8 h11.0" stroke="#262626" stroke-width="2"/><path d="M118.5,856.6 h5.5" stroke="#262626" stroke-width="2"/><path d="M189.4,1370.8 v-5.5" stroke="#262626" stroke-width="2"/><path d="M260.3,1370.8 v-11.0" stroke="#262626" stroke-width="2"/><path d="M331.3,1370.8 v-5.5" stroke="#262626" stroke-width="2"/><path d="M402.2,1370.8 v-11.0" stroke="#262626" stroke-width="2"/><path d="M473.1,1370.8 v-5.5" stroke="#262626" stroke-width="2"/><path d="M544.0,1370.8 v-11.0" stroke="#262626" stroke-width="2"/><path d="M614.9,1370.8 v-5.5" stroke="#262626" stroke-width="2"/><path d="M685.9,1370.8 v-11.0" stroke="#262626" stroke-width="2"/><path d="M756.8,1370.8 v-5.5" stroke="#262626" stroke-width="2"/><path d="M827.7,1275.6 h-11.0" stroke="#262626" stroke-width="2"/><path d="M827.7,1180.4 h-11.0" stroke="#262626" stroke-width="2"/><path d="M827.7,1085.2 h-11.0" stroke="#262626" stroke-width="2"/><path d="M827.7,989.9 h-11.0" stroke="#262626" stroke-width="2"/><path d="M827.7,894.7 h-11.0" stroke="#262626" stroke-width="2"/><path d="M827.7,1323.2 h-5.5" stroke="#262626" stroke-width="2"/><path d="M827.7,1228.0 h-5.5" stroke="#262626" stroke-width="2"/><path d="M827.7,1132.8 h-5.5" stroke="#262626" stroke-width="2"/><path d="M827.7,1037.5 h-5.5" stroke="#262626" stroke-width="2"/><path d="M827.7,942.3 h-5.5" stroke="#262626" stroke-width="2"/><path d="M827.7,847.1 h-5.5" stroke="#262626" stroke-width="2"/>
<g clip-path="url(#cb)" fill="none" stroke-linejoin="round" stroke-linecap="round">
<path d="M119.0,1369.8 C119.2,1360.4 119.9,1328.5 120.5,1306.9 C121.1,1285.3 122.4,1253.2 123.1,1225.8 C123.7,1198.4 124.5,1160.9 125.1,1124.4 C125.6,1087.9 126.4,1014.4 126.8,982.5 C127.3,950.6 127.7,927.3 128.1,911.5 C128.5,895.7 129.1,883.0 129.4,877.1 C129.8,871.1 130.3,870.6 130.7,872.0 C131.0,873.4 131.5,869.6 132.0,886.2 C132.5,902.8 133.5,958.9 134.1,982.5 C134.7,1006.1 135.6,1029.6 136.2,1043.3 C136.9,1057.0 137.8,1068.1 138.3,1073.7 C138.7,1079.4 138.9,1080.7 139.3,1080.8 C139.7,1081.0 140.3,1076.0 140.8,1074.8 C141.3,1073.5 141.9,1071.4 142.3,1072.7 C142.8,1074.1 143.3,1080.4 143.8,1083.9 C144.3,1087.4 145.0,1096.0 145.6,1096.0 C146.1,1096.0 146.7,1091.8 147.4,1083.9 C148.0,1076.0 149.1,1054.4 149.9,1043.3 C150.8,1032.2 152.1,1010.6 153.0,1009.9 C153.8,1009.1 154.8,1028.7 155.5,1038.3 C156.2,1047.8 157.1,1071.5 157.8,1073.7 C158.6,1076.0 159.8,1059.6 160.6,1053.5 C161.4,1047.4 162.4,1031.7 163.2,1033.2 C164.0,1034.7 164.9,1055.1 165.6,1063.6 C166.4,1072.1 167.4,1090.0 168.2,1090.0 C168.9,1090.0 169.9,1071.2 170.7,1063.6 C171.5,1056.0 172.9,1037.8 173.7,1039.3 C174.6,1040.8 175.5,1063.1 176.3,1073.7 C177.1,1084.4 178.3,1108.7 179.1,1110.2 C179.9,1111.8 181.0,1091.8 181.8,1083.9 C182.6,1076.0 183.7,1058.3 184.5,1057.5 C185.2,1056.8 186.0,1073.5 186.7,1078.8 C187.4,1084.1 188.1,1095.3 188.9,1093.0 C189.8,1090.7 191.3,1073.5 192.5,1063.6 C193.7,1053.7 195.8,1025.6 196.8,1027.1 C197.9,1028.6 198.7,1059.4 199.6,1073.7 C200.5,1088.0 201.9,1120.1 202.8,1122.4 C203.7,1124.7 204.8,1097.8 205.7,1089.0 C206.5,1080.1 207.8,1061.3 208.6,1063.6 C209.4,1065.9 210.3,1092.9 211.0,1104.2 C211.8,1115.4 212.7,1140.2 213.5,1138.6 C214.2,1137.1 215.5,1106.5 216.3,1094.0 C217.1,1081.6 218.1,1057.0 218.9,1055.5 C219.8,1054.0 221.0,1075.7 221.9,1083.9 C222.8,1092.1 224.1,1110.2 224.9,1110.2 C225.7,1110.2 226.7,1091.0 227.4,1083.9 C228.2,1076.7 229.1,1061.1 229.9,1062.6 C230.7,1064.1 231.8,1084.1 232.6,1094.0 C233.4,1103.9 234.6,1128.5 235.5,1128.5 C236.3,1128.5 237.4,1103.4 238.3,1094.0 C239.1,1084.6 240.3,1064.1 241.1,1065.6 C241.9,1067.2 242.8,1093.2 243.6,1104.2 C244.3,1115.1 245.2,1137.9 246.0,1138.6 C246.7,1139.4 247.7,1117.9 248.5,1109.2 C249.3,1100.6 250.5,1080.1 251.2,1080.8 C251.8,1081.6 252.5,1105.3 253.1,1114.3 C253.6,1123.3 254.3,1137.3 254.9,1140.7 C255.5,1144.0 256.0,1146.6 256.8,1136.6 C257.7,1126.6 259.3,1087.6 260.4,1073.7 C261.4,1059.9 263.0,1041.3 263.9,1044.3 C264.8,1047.4 265.7,1078.1 266.5,1094.0 C267.3,1110.0 268.3,1147.8 269.2,1150.8 C270.0,1153.8 271.2,1124.8 272.1,1114.3 C273.0,1103.8 274.5,1082.4 275.2,1080.8 C275.8,1079.3 276.1,1097.9 276.6,1104.2 C277.1,1110.4 277.5,1123.2 278.2,1122.4 C279.0,1121.6 280.7,1104.7 281.7,1099.1 C282.7,1093.5 284.1,1082.6 284.9,1084.9 C285.7,1087.2 286.2,1106.4 286.7,1114.3 C287.3,1122.2 287.8,1139.9 288.7,1137.6 C289.5,1135.3 291.2,1110.0 292.3,1099.1 C293.4,1088.1 295.2,1065.4 296.2,1064.6 C297.1,1063.9 298.1,1084.3 298.9,1094.0 C299.7,1103.8 300.7,1128.0 301.4,1129.5 C302.2,1131.0 303.2,1111.9 304.0,1104.2 C304.7,1096.4 306.0,1077.8 306.7,1077.8 C307.4,1077.8 308.0,1095.9 308.5,1104.2 C309.1,1112.4 309.8,1133.3 310.4,1132.5 C311.1,1131.8 312.3,1107.9 313.1,1099.1 C313.9,1090.3 314.8,1069.9 315.7,1073.7 C316.6,1077.5 318.2,1109.7 319.2,1124.4 C320.2,1139.2 321.5,1172.1 322.4,1172.1 C323.3,1172.1 324.2,1138.0 325.0,1124.4 C325.8,1110.9 326.8,1079.6 327.7,1081.9 C328.5,1084.1 329.9,1122.8 330.8,1139.6 C331.7,1156.5 332.7,1195.2 333.7,1194.4 C334.6,1193.6 336.3,1152.8 337.4,1134.6 C338.5,1116.3 340.2,1080.3 341.2,1072.7 C342.1,1065.1 343.0,1080.5 343.8,1083.9 C344.6,1087.2 345.6,1097.5 346.4,1095.0 C347.3,1092.6 348.7,1071.8 349.5,1067.7 C350.2,1063.6 350.7,1060.7 351.3,1067.7 C351.9,1074.7 352.9,1100.8 353.6,1114.3 C354.3,1127.8 354.9,1156.4 355.7,1157.9 C356.6,1159.4 358.0,1134.2 359.0,1124.4 C360.0,1114.7 361.4,1094.5 362.2,1093.0 C363.1,1091.5 363.8,1107.9 364.5,1114.3 C365.1,1120.7 365.9,1137.1 366.7,1135.6 C367.5,1134.1 368.9,1113.7 369.8,1104.2 C370.8,1094.6 372.2,1073.2 373.0,1071.7 C373.8,1070.2 374.6,1087.0 375.3,1094.0 C376.0,1101.0 376.8,1117.6 377.5,1118.4 C378.3,1119.1 379.5,1104.6 380.4,1099.1 C381.2,1093.6 382.4,1081.1 383.2,1081.9 C384.0,1082.6 385.0,1097.8 385.7,1104.2 C386.5,1110.5 387.3,1126.0 388.3,1124.4 C389.2,1122.9 391.0,1103.1 392.1,1094.0 C393.3,1084.9 394.9,1063.6 395.8,1063.6 C396.7,1063.6 397.5,1084.9 398.2,1094.0 C399.0,1103.1 400.0,1121.4 400.7,1124.4 C401.5,1127.5 402.5,1117.5 403.3,1114.3 C404.1,1111.1 405.1,1102.4 406.0,1103.1 C406.9,1103.9 408.2,1114.5 409.1,1119.4 C409.9,1124.2 411.2,1137.1 412.0,1135.6 C412.8,1134.1 413.8,1116.8 414.6,1109.2 C415.4,1101.6 416.6,1084.9 417.3,1084.9 C418.0,1084.9 418.7,1101.9 419.3,1109.2 C419.9,1116.5 420.6,1133.6 421.3,1133.6 C422.1,1133.6 423.5,1116.1 424.4,1109.2 C425.3,1102.4 426.5,1087.9 427.3,1087.9 C428.1,1087.9 428.9,1102.4 429.5,1109.2 C430.2,1116.1 430.9,1135.1 431.8,1133.6 C432.6,1132.0 434.4,1109.0 435.5,1099.1 C436.6,1089.2 438.2,1069.9 439.3,1067.7 C440.3,1065.4 441.5,1078.7 442.5,1083.9 C443.5,1089.1 444.8,1101.4 445.7,1102.1 C446.6,1102.9 447.7,1092.4 448.6,1089.0 C449.4,1085.5 450.6,1078.1 451.3,1078.8 C452.0,1079.6 452.8,1089.3 453.4,1094.0 C454.1,1098.7 454.7,1111.0 455.5,1110.2 C456.3,1109.5 457.8,1094.7 458.8,1089.0 C459.8,1083.2 461.3,1067.2 462.3,1071.7 C463.2,1076.3 464.3,1112.2 465.2,1119.4 C466.0,1126.5 467.1,1123.2 467.9,1119.4 C468.7,1115.6 469.7,1101.8 470.5,1094.0 C471.2,1086.3 472.1,1069.8 473.0,1067.7 C473.9,1065.5 475.2,1077.1 476.4,1079.8 C477.7,1082.6 480.3,1054.7 481.1,1085.9 C481.9,1117.1 481.1,1333.6 481.9,1287.7 C482.7,1241.7 485.2,855.9 486.4,779.7 C487.6,703.5 488.6,726.5 489.9,779.7 C491.2,833.0 493.7,1067.1 495.0,1134.6 C496.3,1202.1 497.2,1229.9 498.5,1229.9 C499.8,1229.9 502.6,1158.0 503.6,1134.6 C504.6,1111.2 504.9,1089.6 505.4,1073.7 C506.0,1057.9 506.6,1030.7 507.3,1029.1 C507.9,1027.6 509.0,1053.0 509.7,1063.6 C510.4,1074.3 511.2,1098.1 512.1,1100.1 C513.0,1102.1 514.8,1076.2 515.8,1076.8 C516.8,1077.4 517.9,1096.1 518.8,1104.2 C519.7,1112.2 521.0,1133.6 521.9,1130.5 C522.9,1127.5 524.3,1095.7 525.3,1083.9 C526.3,1072.0 527.7,1049.5 528.6,1051.4 C529.6,1053.4 530.4,1093.4 531.7,1097.1 C533.0,1100.7 535.8,1075.6 537.1,1075.8 C538.5,1075.9 539.5,1091.4 540.5,1098.1 C541.5,1104.8 542.9,1121.0 543.8,1120.4 C544.7,1119.8 545.8,1101.9 546.6,1094.0 C547.4,1086.1 548.4,1067.7 549.3,1067.7 C550.2,1067.7 551.4,1086.0 552.4,1094.0 C553.3,1102.1 554.2,1120.8 555.4,1121.4 C556.6,1122.0 559.1,1098.2 560.3,1098.1 C561.4,1097.9 562.2,1124.0 563.3,1120.4 C564.4,1116.7 566.2,1086.7 567.5,1073.7 C568.7,1060.8 570.2,1033.7 571.3,1034.2 C572.4,1034.7 573.9,1064.0 574.9,1076.8 C576.0,1089.6 577.1,1117.1 578.6,1119.4 C580.1,1121.6 583.1,1092.4 584.7,1092.0 C586.2,1091.5 587.9,1117.5 588.9,1116.3 C590.0,1115.1 590.9,1093.5 591.7,1083.9 C592.5,1074.3 593.4,1053.7 594.4,1052.5 C595.5,1051.2 597.3,1061.9 598.7,1075.8 C600.0,1089.6 602.6,1113.8 603.5,1144.7 C604.5,1175.6 604.7,1248.9 605.2,1281.6 C605.6,1314.3 605.9,1351.0 606.4,1362.7 C606.8,1374.4 607.4,1362.5 608.0,1359.6 C608.5,1356.8 609.1,1349.2 610.0,1343.4 C610.9,1337.6 613.0,1326.6 614.1,1321.1 C615.1,1315.6 616.2,1310.6 617.1,1306.9 C618.0,1303.3 619.3,1298.6 620.1,1296.8 C621.0,1295.0 622.2,1290.7 623.0,1294.8 C623.8,1298.9 624.8,1317.3 625.4,1324.2 C626.1,1331.0 626.8,1334.9 627.2,1340.4 C627.7,1345.9 627.6,1357.9 628.3,1360.7 C628.9,1363.4 630.2,1359.5 631.3,1358.6 C632.3,1357.7 634.3,1356.3 635.2,1354.6 C636.2,1352.9 637.1,1349.8 637.9,1347.5 C638.7,1345.2 639.6,1339.5 640.7,1339.4 C641.8,1339.2 644.1,1343.9 645.1,1346.5 C646.1,1349.1 646.7,1355.2 647.5,1356.6 C648.3,1358.0 649.5,1356.2 650.6,1355.6 C651.6,1355.0 653.4,1351.9 654.3,1352.6 C655.2,1353.2 655.9,1358.8 656.7,1360.2 C657.5,1361.5 658.6,1362.1 659.7,1361.7 C660.7,1361.3 662.8,1360.4 663.7,1357.6 C664.6,1354.9 664.9,1347.2 665.8,1343.4 C666.6,1339.6 668.5,1331.7 669.4,1332.3 C670.3,1332.9 671.2,1343.2 671.8,1347.5 C672.5,1351.7 673.0,1358.7 673.9,1360.7 C674.7,1362.6 676.8,1361.9 677.7,1360.7 C678.6,1359.4 679.3,1354.3 679.9,1352.6 C680.6,1350.8 681.4,1348.6 682.0,1349.1 C682.6,1349.6 683.5,1353.8 684.0,1355.6 C684.5,1357.4 684.9,1360.6 685.5,1361.2 C686.1,1361.8 687.4,1362.0 688.0,1359.6 C688.7,1357.3 689.4,1350.0 690.1,1345.5 C690.7,1340.9 691.6,1330.1 692.4,1329.2 C693.2,1328.4 694.7,1335.2 695.4,1339.9 C696.2,1344.6 696.8,1358.8 697.4,1360.7 C697.9,1362.6 698.6,1354.9 699.2,1352.6 C699.7,1350.2 700.5,1344.7 701.0,1344.8 C701.6,1345.0 702.2,1351.1 702.7,1353.6 C703.3,1356.0 704.2,1362.8 704.7,1361.2 C705.1,1359.5 705.5,1347.2 705.8,1342.4 C706.1,1337.7 706.0,1331.6 706.5,1329.4 C707.0,1327.3 708.6,1329.9 709.3,1328.2 C710.1,1326.6 710.7,1321.7 711.5,1318.4 C712.2,1315.1 713.8,1308.1 714.5,1306.1 C715.2,1304.1 715.6,1302.2 716.4,1304.9 C717.2,1307.6 718.9,1324.2 719.7,1324.2 C720.4,1324.2 720.5,1310.5 721.3,1304.9 C722.0,1299.3 723.8,1293.2 724.7,1286.7 C725.6,1280.1 726.5,1270.3 727.3,1261.3 C728.0,1252.3 729.3,1239.8 729.9,1226.8 C730.5,1213.9 730.9,1190.5 731.2,1175.1 C731.5,1159.8 731.7,1183.7 731.9,1124.4 C732.2,1065.1 732.3,831.4 732.9,779.7 C733.6,728.0 735.7,691.2 736.2,779.7 C736.7,868.2 736.4,1281.3 736.5,1369.8 C736.6,1458.3 736.9,1369.8 737.0,1369.8" stroke="#000" stroke-width="5.6"/>
<rect x="603.4" y="1360" width="5.6" height="11" fill="#000" stroke="none"/>
<rect x="611.0" y="1360" width="5.2" height="11" fill="#000" stroke="none"/>
<rect x="624.3" y="1360" width="10.4" height="11" fill="#000" stroke="none"/>
<rect x="644.3" y="1360" width="14.0" height="11" fill="#000" stroke="none"/>
<rect x="664.0" y="1360" width="4.7" height="11" fill="#000" stroke="none"/>
<rect x="670.4" y="1360" width="4.4" height="11" fill="#000" stroke="none"/>
<rect x="676.4" y="1360" width="12.4" height="11" fill="#000" stroke="none"/>
<rect x="695.7" y="1360" width="11.2" height="11" fill="#000" stroke="none"/>
</g>
<path d="M124.5,1123.2 L127.0,1122.8 L130.0,1122.8 L133.0,1122.8 L136.0,1124.0 L139.0,1125.4 L142.0,1128.1 L145.1,1130.6 L148.1,1131.5 L151.1,1134.6 L154.1,1136.1 L157.1,1137.5 L160.1,1139.2 L163.1,1141.5 L167.1,1145.7 L171.1,1148.5 L175.1,1154.2 L179.1,1158.6 L183.1,1162.2 L187.1,1167.2 L192.0,1172.5 L195.0,1172.8 L198.0,1175.8 L202.0,1178.4 L206.0,1182.3 L210.0,1185.7 L214.0,1187.3 L218.0,1191.8 L222.0,1194.5 L226.0,1195.4 L230.0,1198.4 L234.1,1199.2 L238.1,1203.0 L242.1,1204.8 L246.1,1207.6 L250.1,1209.1 L254.1,1210.6 L258.1,1212.2 L262.1,1213.1 L265.7,1212.3 L269.4,1214.2 L273.0,1213.1 L277.0,1214.3 L281.0,1216.9 L285.0,1215.2 L289.0,1215.8 L293.1,1215.8 L297.1,1218.0 L301.1,1215.6 L305.1,1214.8 L309.1,1216.7 L313.1,1214.2 L317.1,1215.7 L321.1,1214.6 L325.1,1213.8 L329.1,1213.0 L333.1,1210.5 L337.1,1209.7 L340.7,1206.3 L344.4,1207.0 L348.0,1204.9 L352.0,1203.5 L356.0,1199.8 L360.0,1199.6 L364.0,1198.1 L368.1,1193.5 L372.1,1192.0 L376.1,1190.3 L380.1,1188.6 L384.1,1185.2 L388.1,1183.2 L392.1,1181.6 L396.1,1180.8 L400.1,1179.4 L404.1,1176.6 L408.1,1174.5 L412.1,1172.6 L415.6,1171.3 L419.0,1170.3 L423.0,1167.3 L427.0,1166.5 L431.0,1165.8 L435.0,1162.1 L439.0,1160.8 L443.1,1157.3 L447.1,1157.0 L451.1,1155.4 L455.1,1153.4 L459.1,1151.5 L463.1,1150.1 L467.1,1149.5 L471.1,1149.1 L475.1,1146.5 L476.0,1157.7 L480.7,1161.7 L485.5,1160.0 L488.5,1157.0 L491.2,1153.7 L494.4,1154.5 L498.1,1159.0 L501.0,1156.0 L505.3,1151.0 L508.0,1152.0 L511.7,1153.0 L515.0,1153.0 L518.1,1153.0 L521.0,1150.0 L525.3,1143.0 L527.7,1150.0 L530.0,1156.0 L533.3,1160.0 L536.0,1159.0 L538.9,1158.0 L542.1,1155.0 L545.4,1143.0 L548.6,1127.0 L552.6,1102.5 L556.6,1086.0 L560.6,1067.0 L563.0,1058.0 L565.7,1055.0 L568.1,1057.0 L571.0,1062.0 L575.3,1073.0 L579.3,1088.0 L583.8,1116.0 L587.8,1143.0 L591.8,1160.0 L596.6,1161.0 L601.5,1159.0 L603.2,987.8 L607.6,955.0 L611.3,923.7 L615.6,902.9 L619.3,896.5 L623.0,1037.7 L625.6,1043.0 L628.2,1048.0 L631.5,1053.0 L634.7,1060.0 L638.0,1064.0 L642.6,1068.3 L646.5,1062.4 L650.4,1056.0 L654.3,1049.4 L658.2,1043.0 L662.1,1036.4 L666.0,1031.8 L669.3,1030.0 L672.5,1040.3 L677.7,1032.5 L682.9,1031.2 L688.2,1026.0 L692.1,1013.0 L696.0,1010.3 L701.2,1005.0 L706.4,1003.8 L709.0,1003.8 L711.6,986.9 L715.5,981.7 L719.4,977.8 L723.3,972.6 L727.2,966.0 L728.5,959.5 L730.2,800.5" fill="none" stroke="#9a9a9a" stroke-width="1.3"/>
<path d="M124.5,1118.1 L130.3,1128.3 L118.7,1128.3 ZM127.0,1117.7 L132.8,1127.9 L121.2,1127.9 ZM130.0,1117.7 L135.8,1127.9 L124.2,1127.9 ZM133.0,1117.7 L138.8,1127.9 L127.2,1127.9 ZM136.0,1118.9 L141.8,1129.1 L130.2,1129.1 ZM139.0,1120.3 L144.8,1130.5 L133.2,1130.5 ZM142.0,1123.0 L147.8,1133.2 L136.2,1133.2 ZM145.1,1125.5 L150.9,1135.7 L139.2,1135.7 ZM148.1,1126.4 L153.9,1136.6 L142.3,1136.6 ZM151.1,1129.5 L156.9,1139.7 L145.3,1139.7 ZM154.1,1131.0 L159.9,1141.2 L148.3,1141.2 ZM157.1,1132.4 L162.9,1142.6 L151.3,1142.6 ZM160.1,1134.1 L165.9,1144.3 L154.3,1144.3 ZM163.1,1136.4 L168.9,1146.6 L157.3,1146.6 ZM167.1,1140.6 L172.9,1150.8 L161.3,1150.8 ZM171.1,1143.4 L176.9,1153.6 L165.3,1153.6 ZM175.1,1149.1 L180.9,1159.3 L169.3,1159.3 ZM179.1,1153.5 L184.9,1163.7 L173.3,1163.7 ZM183.1,1157.1 L188.9,1167.3 L177.3,1167.3 ZM187.1,1162.1 L192.9,1172.3 L181.3,1172.3 ZM192.0,1167.4 L197.8,1177.6 L186.2,1177.6 ZM195.0,1167.7 L200.8,1177.9 L189.2,1177.9 ZM198.0,1170.7 L203.8,1180.9 L192.2,1180.9 ZM202.0,1173.3 L207.8,1183.5 L196.2,1183.5 ZM206.0,1177.2 L211.8,1187.4 L200.2,1187.4 ZM210.0,1180.6 L215.8,1190.8 L204.2,1190.8 ZM214.0,1182.2 L219.8,1192.4 L208.2,1192.4 ZM218.0,1186.7 L223.8,1196.9 L212.2,1196.9 ZM222.0,1189.4 L227.8,1199.6 L216.2,1199.6 ZM226.0,1190.3 L231.8,1200.5 L220.2,1200.5 ZM230.0,1193.3 L235.8,1203.5 L224.2,1203.5 ZM234.1,1194.1 L239.9,1204.3 L228.2,1204.3 ZM238.1,1197.9 L243.9,1208.1 L232.3,1208.1 ZM242.1,1199.7 L247.9,1209.9 L236.3,1209.9 ZM246.1,1202.5 L251.9,1212.7 L240.3,1212.7 ZM250.1,1204.0 L255.9,1214.2 L244.3,1214.2 ZM254.1,1205.5 L259.9,1215.7 L248.3,1215.7 ZM258.1,1207.1 L263.9,1217.3 L252.3,1217.3 ZM262.1,1208.0 L267.9,1218.2 L256.3,1218.2 ZM265.7,1207.2 L271.5,1217.4 L259.9,1217.4 ZM269.4,1209.1 L275.2,1219.3 L263.6,1219.3 ZM273.0,1208.0 L278.8,1218.2 L267.2,1218.2 ZM277.0,1209.2 L282.8,1219.4 L271.2,1219.4 ZM281.0,1211.8 L286.8,1222.0 L275.2,1222.0 ZM285.0,1210.1 L290.8,1220.3 L279.2,1220.3 ZM289.0,1210.7 L294.8,1220.9 L283.2,1220.9 ZM293.1,1210.7 L298.9,1220.9 L287.2,1220.9 ZM297.1,1212.9 L302.9,1223.1 L291.3,1223.1 ZM301.1,1210.5 L306.9,1220.7 L295.3,1220.7 ZM305.1,1209.7 L310.9,1219.9 L299.3,1219.9 ZM309.1,1211.6 L314.9,1221.8 L303.3,1221.8 ZM313.1,1209.1 L318.9,1219.3 L307.3,1219.3 ZM317.1,1210.6 L322.9,1220.8 L311.3,1220.8 ZM321.1,1209.5 L326.9,1219.7 L315.3,1219.7 ZM325.1,1208.7 L330.9,1218.9 L319.3,1218.9 ZM329.1,1207.9 L334.9,1218.1 L323.3,1218.1 ZM333.1,1205.4 L338.9,1215.6 L327.3,1215.6 ZM337.1,1204.6 L342.9,1214.8 L331.3,1214.8 ZM340.7,1201.2 L346.5,1211.4 L334.9,1211.4 ZM344.4,1201.9 L350.2,1212.1 L338.6,1212.1 ZM348.0,1199.8 L353.8,1210.0 L342.2,1210.0 ZM352.0,1198.4 L357.8,1208.6 L346.2,1208.6 ZM356.0,1194.7 L361.8,1204.9 L350.2,1204.9 ZM360.0,1194.5 L365.8,1204.7 L354.2,1204.7 ZM364.0,1193.0 L369.8,1203.2 L358.2,1203.2 ZM368.1,1188.4 L373.9,1198.6 L362.2,1198.6 ZM372.1,1186.9 L377.9,1197.1 L366.3,1197.1 ZM376.1,1185.2 L381.9,1195.4 L370.3,1195.4 ZM380.1,1183.5 L385.9,1193.7 L374.3,1193.7 ZM384.1,1180.1 L389.9,1190.3 L378.3,1190.3 ZM388.1,1178.1 L393.9,1188.3 L382.3,1188.3 ZM392.1,1176.5 L397.9,1186.7 L386.3,1186.7 ZM396.1,1175.7 L401.9,1185.9 L390.3,1185.9 ZM400.1,1174.3 L405.9,1184.5 L394.3,1184.5 ZM404.1,1171.5 L409.9,1181.7 L398.3,1181.7 ZM408.1,1169.4 L413.9,1179.6 L402.3,1179.6 ZM412.1,1167.5 L417.9,1177.7 L406.3,1177.7 ZM415.6,1166.2 L421.4,1176.4 L409.8,1176.4 ZM419.0,1165.2 L424.8,1175.4 L413.2,1175.4 ZM423.0,1162.2 L428.8,1172.4 L417.2,1172.4 ZM427.0,1161.4 L432.8,1171.6 L421.2,1171.6 ZM431.0,1160.7 L436.8,1170.9 L425.2,1170.9 ZM435.0,1157.0 L440.8,1167.2 L429.2,1167.2 ZM439.0,1155.7 L444.8,1165.9 L433.2,1165.9 ZM443.1,1152.2 L448.9,1162.4 L437.2,1162.4 ZM447.1,1151.9 L452.9,1162.1 L441.3,1162.1 ZM451.1,1150.3 L456.9,1160.5 L445.3,1160.5 ZM455.1,1148.3 L460.9,1158.5 L449.3,1158.5 ZM459.1,1146.4 L464.9,1156.6 L453.3,1156.6 ZM463.1,1145.0 L468.9,1155.2 L457.3,1155.2 ZM467.1,1144.4 L472.9,1154.6 L461.3,1154.6 ZM471.1,1144.0 L476.9,1154.2 L465.3,1154.2 ZM475.1,1141.4 L480.9,1151.6 L469.3,1151.6 ZM476.0,1152.9 L481.5,1162.5 L470.5,1162.5 ZM480.7,1156.9 L486.2,1166.5 L475.2,1166.5 ZM485.5,1155.2 L491.0,1164.8 L480.0,1164.8 ZM488.5,1152.2 L494.0,1161.8 L483.0,1161.8 ZM491.2,1148.9 L496.7,1158.5 L485.7,1158.5 ZM494.4,1149.7 L499.9,1159.3 L488.9,1159.3 ZM498.1,1154.2 L503.6,1163.8 L492.6,1163.8 ZM501.0,1151.2 L506.5,1160.8 L495.5,1160.8 ZM505.3,1146.2 L510.8,1155.8 L499.8,1155.8 ZM508.0,1147.2 L513.5,1156.8 L502.5,1156.8 ZM511.7,1148.2 L517.2,1157.8 L506.2,1157.8 ZM515.0,1148.2 L520.5,1157.8 L509.5,1157.8 ZM518.1,1148.2 L523.6,1157.8 L512.6,1157.8 ZM521.0,1145.2 L526.5,1154.8 L515.5,1154.8 ZM525.3,1138.2 L530.8,1147.8 L519.8,1147.8 ZM527.7,1145.2 L533.2,1154.8 L522.2,1154.8 ZM530.0,1151.2 L535.5,1160.8 L524.5,1160.8 ZM533.3,1155.2 L538.8,1164.8 L527.8,1164.8 ZM536.0,1154.2 L541.5,1163.8 L530.5,1163.8 ZM538.9,1153.2 L544.4,1162.8 L533.4,1162.8 ZM542.1,1150.2 L547.6,1159.8 L536.6,1159.8 ZM545.4,1138.2 L550.9,1147.8 L539.9,1147.8 ZM548.6,1122.2 L554.1,1131.8 L543.1,1131.8 ZM552.6,1097.7 L558.1,1107.3 L547.1,1107.3 ZM556.6,1081.2 L562.1,1090.8 L551.1,1090.8 ZM560.6,1062.2 L566.1,1071.8 L555.1,1071.8 ZM563.0,1053.2 L568.5,1062.8 L557.5,1062.8 ZM565.7,1050.2 L571.2,1059.8 L560.2,1059.8 ZM568.1,1052.2 L573.6,1061.8 L562.6,1061.8 ZM571.0,1057.2 L576.5,1066.8 L565.5,1066.8 ZM575.3,1068.2 L580.8,1077.8 L569.8,1077.8 ZM579.3,1083.2 L584.8,1092.8 L573.8,1092.8 ZM583.8,1111.2 L589.3,1120.8 L578.3,1120.8 ZM587.8,1138.2 L593.3,1147.8 L582.3,1147.8 ZM591.8,1155.2 L597.3,1164.8 L586.3,1164.8 ZM596.6,1156.2 L602.1,1165.8 L591.1,1165.8 ZM601.5,1154.2 L607.0,1163.8 L596.0,1163.8 ZM603.2,983.0 L608.7,992.6 L597.7,992.6 ZM607.6,950.2 L613.1,959.8 L602.1,959.8 ZM611.3,918.9 L616.8,928.5 L605.8,928.5 ZM615.6,898.1 L621.1,907.7 L610.1,907.7 ZM619.3,891.7 L624.8,901.3 L613.8,901.3 ZM623.0,1032.9 L628.5,1042.5 L617.5,1042.5 ZM625.6,1038.2 L631.1,1047.8 L620.1,1047.8 ZM628.2,1043.2 L633.7,1052.8 L622.7,1052.8 ZM631.5,1048.2 L637.0,1057.8 L626.0,1057.8 ZM634.7,1055.2 L640.2,1064.8 L629.2,1064.8 ZM638.0,1059.2 L643.5,1068.8 L632.5,1068.8 ZM642.6,1063.5 L648.1,1073.1 L637.1,1073.1 ZM646.5,1057.6 L652.0,1067.2 L641.0,1067.2 ZM650.4,1051.2 L655.9,1060.8 L644.9,1060.8 ZM654.3,1044.6 L659.8,1054.2 L648.8,1054.2 ZM658.2,1038.2 L663.7,1047.8 L652.7,1047.8 ZM662.1,1031.6 L667.6,1041.2 L656.6,1041.2 ZM666.0,1027.0 L671.5,1036.6 L660.5,1036.6 ZM669.3,1025.2 L674.8,1034.8 L663.8,1034.8 ZM672.5,1035.5 L678.0,1045.1 L667.0,1045.1 ZM677.7,1027.7 L683.2,1037.3 L672.2,1037.3 ZM682.9,1026.4 L688.4,1036.0 L677.4,1036.0 ZM688.2,1021.2 L693.7,1030.8 L682.7,1030.8 ZM692.1,1008.2 L697.6,1017.8 L686.6,1017.8 ZM696.0,1005.5 L701.5,1015.1 L690.5,1015.1 ZM701.2,1000.2 L706.7,1009.8 L695.7,1009.8 ZM706.4,999.0 L711.9,1008.6 L700.9,1008.6 ZM709.0,999.0 L714.5,1008.6 L703.5,1008.6 ZM711.6,982.1 L717.1,991.7 L706.1,991.7 ZM715.5,976.9 L721.0,986.5 L710.0,986.5 ZM719.4,973.0 L724.9,982.6 L713.9,982.6 ZM723.3,967.8 L728.8,977.4 L717.8,977.4 ZM727.2,961.2 L732.7,970.8 L721.7,970.8 ZM728.5,954.7 L734.0,964.3 L723.0,964.3 Z" fill="#7623c2"/>
<rect x="118.5" y="799.5" width="709.2" height="571.3" fill="none" stroke="#262626" stroke-width="2.2"/>
<rect x="491.5" y="1277.4" width="320" height="84" fill="#fff" stroke="#a8a8a8" stroke-width="1.8"/>
<path d="M496,1298.9 H566.5" stroke="#000" stroke-width="5" stroke-linecap="round"/>
<text x="576.5" y="1310.6" font-size="32">Cell Heating Rate</text>
<path d="M495.3,1340 H567.5" stroke="#9a9a9a" stroke-width="1.3"/>
<path d="M531.4,1333.0 L537.4,1343.0 L525.4,1343.0 Z" fill="#7623c2"/>
<text x="576.5" y="1350.3" font-size="32">0.1 Hz</text>
<text x="759.5" y="848.6" font-size="48">(b)</text>
<text x="106.5" y="1381.3" font-size="33" font-weight="bold" text-anchor="end">0</text>
<text x="106.5" y="1267.0" font-size="33" font-weight="bold" text-anchor="end">2</text>
<text x="106.5" y="1152.8" font-size="33" font-weight="bold" text-anchor="end">4</text>
<text x="106.5" y="1038.5" font-size="33" font-weight="bold" text-anchor="end">6</text>
<text x="106.5" y="924.3" font-size="33" font-weight="bold" text-anchor="end">8</text>
<text x="106.5" y="810.0" font-size="33" font-weight="bold" text-anchor="end">10</text>
<text x="118.5" y="1408.5" font-size="33" font-weight="bold" text-anchor="middle">0</text>
<text x="260.3" y="1408.5" font-size="33" font-weight="bold" text-anchor="middle">10</text>
<text x="402.2" y="1408.5" font-size="33" font-weight="bold" text-anchor="middle">20</text>
<text x="544.0" y="1408.5" font-size="33" font-weight="bold" text-anchor="middle">30</text>
<text x="685.9" y="1408.5" font-size="33" font-weight="bold" text-anchor="middle">40</text>
<text x="827.7" y="1408.5" font-size="33" font-weight="bold" text-anchor="middle">50</text>
<text x="839.5" y="1381.3" font-size="32.5" font-weight="bold" fill="#7020c0">0.000</text>
<text x="839.5" y="1286.1" font-size="32.5" font-weight="bold" fill="#7020c0">0.001</text>
<text x="839.5" y="1190.9" font-size="32.5" font-weight="bold" fill="#7020c0">0.002</text>
<text x="839.5" y="1095.7" font-size="32.5" font-weight="bold" fill="#7020c0">0.003</text>
<text x="839.5" y="1000.4" font-size="32.5" font-weight="bold" fill="#7020c0">0.004</text>
<text x="839.5" y="905.2" font-size="32.5" font-weight="bold" fill="#7020c0">0.005</text>
<text x="839.5" y="810.0" font-size="32.5" font-weight="bold" fill="#7020c0">0.006</text>
<text x="198" y="779.7" font-size="47.9" font-weight="bold">Rapid EIS Response (1S4P)</text>
<text x="374" y="1475.4" font-size="47.9">Time, min</text>
<text transform="translate(36.3,1271) rotate(-90)" font-size="47.9">Heating Rate, °C/min</text>
<text transform="translate(985.8,1374.3) rotate(-90)" font-size="47.8" fill="#7020c0">Impedance Magnitude</text>
<path d="M938.5,930.1 H988.5 M938.5,872.2 H988.5" stroke="#7020c0" stroke-width="2.3"/>
<text transform="translate(985.8,914.2) rotate(-90)" font-size="47.3" fill="#7020c0">Z</text>
<text transform="translate(985.8,856.8) rotate(-90)" font-size="47.3" fill="#7020c0">,</text>
<text transform="translate(985.8,834.5) rotate(-90)" font-size="51" fill="#7020c0">Ω</text>
<path d="M315.9,1220.7 L318.6,1227.8 L326.2,1228.2 L320.3,1233.1 L322.3,1240.4 L315.9,1236.3 L309.4,1240.4 L311.4,1233.1 L305.5,1228.2 L313.1,1227.8Z" fill="#0070c8"/>
<text x="318.9" y="1274" font-size="32" text-anchor="middle" fill="#1d4fa6">failure marker</text>
<text x="318.9" y="1304" font-size="32" text-anchor="middle" fill="#1d4fa6">(99 °C)</text>
</svg></body></html>
